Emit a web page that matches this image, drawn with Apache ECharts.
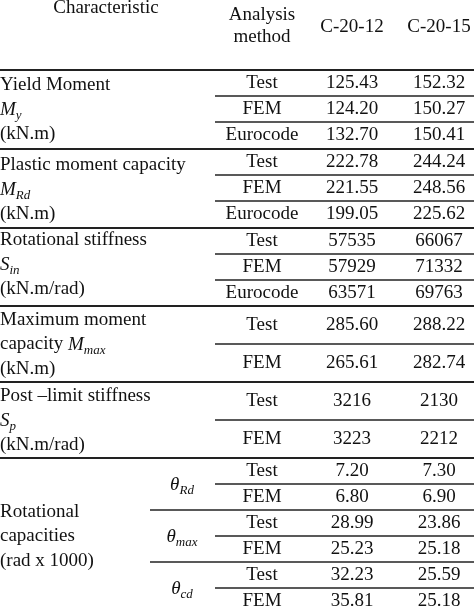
<!DOCTYPE html>
<html><head><meta charset="utf-8">
<script src="https://cdn.jsdelivr.net/npm/echarts@6/dist/echarts.min.js"></script>
<style>html,body{margin:0;padding:0;background:#fff}#c{width:474px;height:612px}</style>
</head><body><div id="c"></div>
<script>
// ---- data ----
var headers = ['Characteristic', 'Analysis\nmethod', 'C-20-12', 'C-20-15'];
var methods = ['Test','FEM','Eurocode','Test','FEM','Eurocode','Test','FEM','Eurocode','Test','FEM','Test','FEM','Test','FEM','Test','FEM','Test','FEM'];
var c2012 = ['125.43','124.20','132.70','222.78','221.55','199.05','57535','57929','63571','285.60','265.61','3216','3223','7.20','6.80','28.99','25.23','32.23','35.81'];
var c2015 = ['152.32','150.27','150.41','244.24','248.56','225.62','66067','71332','69763','288.22','282.74','2130','2212','7.30','6.90','23.86','25.18','25.59','25.18'];
// group labels: each line is list of [text, style] ; style: n normal, i italic, s subscript
var groupLabels = [
  [[['Yield Moment','n']], [['M','i'],['y','s']], [['(kN.m)','n']]],
  [[['Plastic moment capacity','n']], [['M','i'],['Rd','s']], [['(kN.m)','n']]],
  [[['Rotational stiffness','n']], [['S','i'],['in','s']], [['(kN.m/rad)','n']]],
  [[['Maximum moment','n']], [['capacity ','n'],['M','i'],['max','s']], [['(kN.m)','n']]],
  [[['Post \u2013limit stiffness','n']], [['S','i'],['p','s']], [['(kN.m/rad)','n']]],
  [[['Rotational','n']], [['capacities','n']], [['(rad x 1000)','n']]]
];
var groupRows = [[0,3],[3,6],[6,9],[9,11],[11,13],[13,19]];
var subGroups = [[['\u03b8','i'],['Rd','s']], [['\u03b8','i'],['max','s']], [['\u03b8','i'],['cd','s']]];
var subGroupRows = [[13,15],[15,17],[17,19]];

// ---- layout ----
var yEdges = [70,96,122,149,175,201,228,254,280,306,344,382,420,458,484,510,536,562,588,614];
var groupLabelTop = [85,165,240,320,396,512];
var FONT = '"Liberation Serif","DejaVu Serif",serif';
var FS = 19, SFS = 13, LH = 24.5;
var colX = [106, 262, 352, 439];

var ctx = document.createElement('canvas').getContext('2d');
function w(t, st){ ctx.font = (st==='n'?'':'italic ') + (st==='s'?SFS:FS) + 'px ' + FONT; return ctx.measureText(t).width; }

function richLine(api, segs, x, y, align){
  var total = 0; segs.forEach(function(s){ total += w(s[0], s[1]); });
  var cx = align === 'center' ? x - total/2 : x;
  var els = [];
  segs.forEach(function(s){
    var p = api.coord([cx, y]);
    els.push({type:'text', style:{text:s[0], x:p[0], y:p[1] + (s[1]==='s'?6:0), fill:'#111',
      font:(s[1]==='n'?'':'italic ') + (s[1]==='s'?SFS:FS) + 'px ' + FONT, textVerticalAlign:'middle', textAlign:'left'}});
    cx += w(s[0], s[1]);
  });
  return els;
}
function hline(api, x0, x1, y, lw){
  var a = api.coord([x0,y]), b = api.coord([x1,y]);
  return {type:'line', shape:{x1:a[0],y1:a[1],x2:b[0],y2:b[1]}, style:{stroke:'#222', lineWidth:lw}};
}
function txt(api, t, x, y){
  var p = api.coord([x,y]);
  return {type:'text', style:{text:t, x:p[0], y:p[1], fill:'#111', font:FS+'px '+FONT, textAlign:'center', textVerticalAlign:'middle', lineHeight:22}};
}

var chart = echarts.init(document.getElementById('c'), null, {renderer:'canvas'});
chart.setOption({
  animation:false,
  grid:{left:0,right:0,top:0,bottom:0},
  xAxis:{type:'value', min:0, max:474, show:false},
  yAxis:{type:'value', min:0, max:612, inverse:true, show:false},
  series:[{
    type:'custom', coordinateSystem:'cartesian2d',
    data: methods.map(function(m,i){ return [i]; }),
    renderItem: function(params, api){
      var i = params.dataIndex, els = [];
      var yc = (yEdges[i] + yEdges[i+1]) / 2;
      els.push(txt(api, methods[i], colX[1], yc));
      els.push(txt(api, c2012[i], colX[2], yc));
      els.push(txt(api, c2015[i], colX[3], yc));
      // line below the row
      var g = groupRows.findIndex(function(r){ return r[1]-1 === i; });
      var sg = subGroupRows.findIndex(function(r){ return r[1]-1 === i; });
      if (g >= 0) els.push(hline(api, 0, 474, yEdges[i+1], 2));
      else if (sg >= 0) els.push(hline(api, 150, 474, yEdges[i+1], 1.6));
      else els.push(hline(api, 215, 474, yEdges[i+1], 1.6));
      // group labels at first row of group
      var gs = groupRows.findIndex(function(r){ return r[0] === i; });
      if (gs >= 0) groupLabels[gs].forEach(function(line, k){
        els = els.concat(richLine(api, line, 0, groupLabelTop[gs] + k*LH, 'left'));
      });
      var ss = subGroupRows.findIndex(function(r){ return r[0] === i; });
      if (ss >= 0) els = els.concat(richLine(api, subGroups[ss], 182, yEdges[i+1] + 1, 'center'));
      if (i === 0) {
        els.push(hline(api, 0, 474, yEdges[0], 2));
        els.push(txt(api, headers[0], colX[0], 8));
        els.push(txt(api, headers[1], colX[1], 26));
        els.push(txt(api, headers[2], colX[2], 27));
        els.push(txt(api, headers[3], colX[3], 27));
      }
      return {type:'group', children:els};
    }
  }]
});
</script></body></html>
